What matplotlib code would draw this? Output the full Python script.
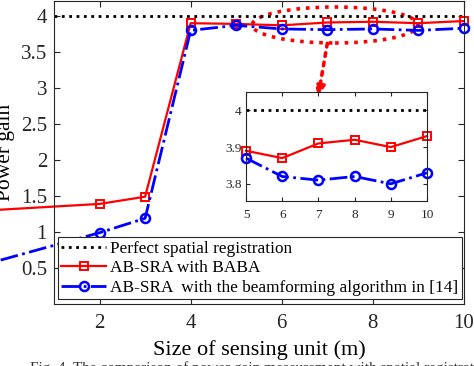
import matplotlib
matplotlib.use("Agg")
import matplotlib.pyplot as plt
from matplotlib.patches import Ellipse
import numpy as np

plt.rcParams['font.family'] = ['Liberation Serif', 'DejaVu Serif']

# sizes of sensing unit (m); first entry is where the line leaves the picture
size_m = [-0.17, 2, 3, 4, 5, 6, 7, 8, 9, 10]
gain_baba = [1.31, 1.39, 1.49, 3.90, 3.89, 3.87, 3.91, 3.92, 3.90, 3.93]
gain_bf14 = [0.61, 0.99, 1.19, 3.80, 3.87, 3.82, 3.81, 3.82, 3.80, 3.83]
perfect = 4.0

inset_size = [5, 6, 7, 8, 9, 10]
inset_baba = [3.89, 3.87, 3.91, 3.92, 3.90, 3.93]
inset_bf14 = [3.87, 3.82, 3.81, 3.82, 3.80, 3.83]

labels = ['Perfect spatial registration', 'AB-SRA with BABA',
          'AB-SRA  with the beamforming algorithm in [14]']

red = '#ff0000'
blue = '#0000ff'
edge = '#262626'

fig = plt.figure(figsize=(4.74, 3.66), dpi=100)
ax = fig.add_axes([0.1139, 0.1694, 0.865, 0.8292])

ax.plot([1, 10], [perfect, perfect], ':', color='k', lw=2, label=labels[0])
ax.plot(size_m, gain_baba, '-', color=red, lw=1.6, marker='s', ms=6,
        mfc='none', mew=1.4, markevery=range(1, len(size_m)),
        clip_on=False, label=labels[1])
ax.plot(size_m, gain_bf14, '-.', color=blue, lw=2, marker='o', ms=6.5,
        mfc='none', mew=1.8, markevery=range(1, len(size_m)),
        clip_on=False, label=labels[2])

ax.set_xlim(1, 10)
ax.set_ylim(0, 4.215)
ax.set_xticks([2, 4, 6, 8, 10])
ax.set_yticks([0.5, 1, 1.5, 2, 2.5, 3, 3.5, 4])
ax.set_yticklabels(['0.5', '1', '1.5', '2', '2.5', '3', '3.5', '4'])
ax.tick_params(direction='in', top=True, right=True, labelsize=15,
               length=4, color=edge, labelcolor='#262626')
ax.tick_params(axis='x', pad=7)
ax.tick_params(axis='y', pad=5)
for s in ax.spines.values():
    s.set_color(edge)
    s.set_linewidth(0.8)
ax.set_xlabel('Size of sensing unit (m)', fontsize=16, labelpad=5)
ax.set_ylabel('Power gain', fontsize=15.5)
ax.yaxis.set_label_coords(-0.095, 0.5)

# dotted ellipse around the zoomed region and arrow to the inset
ell = Ellipse((7.17, 3.875), 3.64, 0.5, fill=False, ec=red, lw=2.6,
              ls=':', clip_on=False)
ax.add_patch(ell)
ax.annotate('', xy=(6.8, 2.89), xytext=(7.0, 3.62),
            arrowprops=dict(arrowstyle='-|>', color=red, lw=2.6, ls=':',
                            mutation_scale=14, shrinkA=0, shrinkB=0))

leg = ax.legend(loc='lower right', bbox_to_anchor=(462 / 474, (366 - 299) / 366),
                bbox_transform=fig.transFigure, fontsize=12.4, frameon=True,
                fancybox=False, framealpha=1, edgecolor=edge,
                handlelength=2.6, handletextpad=0.25, labelspacing=0.2,
                borderpad=0.2, borderaxespad=0)
leg.get_frame().set_linewidth(0.8)

# inset
ins = fig.add_axes([0.519, 0.4516, 0.3818, 0.297])
ins.plot([5, 10], [perfect, perfect], ':', color='k', lw=2)
ins.plot(inset_size, inset_baba, '-', color=red, lw=1.6, marker='s', ms=6,
         mfc='none', mew=1.4, clip_on=False)
ins.plot(inset_size, inset_bf14, '-.', color=blue, lw=2, marker='o', ms=6.5,
         mfc='none', mew=1.8, clip_on=False)
ins.set_xlim(5, 10)
ins.set_ylim(3.754, 4.05)
ins.set_xticks([5, 6, 7, 8, 9, 10])
ins.set_yticks([3.8, 3.9, 4])
ins.set_yticklabels(['3.8', '3.9', '4'])
ins.tick_params(direction='in', top=True, right=True, labelsize=9.5,
                length=3, color=edge, labelcolor='#262626', pad=3)
ins.tick_params(axis='x', pad=6)
for s in ins.spines.values():
    s.set_color(edge)
    s.set_linewidth(0.8)

# caption of the paper figure, cut by the bottom edge as in the source
fig.text(30 / 474, (366 - 361) / 366,
         'Fig. 4. The comparison of power gain measurement with spatial registration',
         fontsize=11, va='top', ha='left', color='#333333')

fig.savefig('out.png', dpi=100)
